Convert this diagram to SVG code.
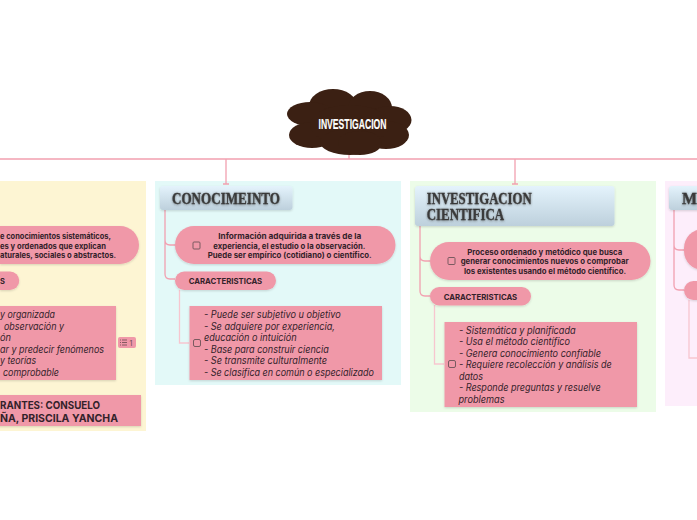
<svg xmlns="http://www.w3.org/2000/svg" width="697" height="520" viewBox="0 0 697 520">
<defs>
<linearGradient id="tg" x1="0" y1="0" x2="0" y2="1"><stop offset="0" stop-color="#e4f3fc"/><stop offset="1" stop-color="#bdd0dc"/></linearGradient>
<filter id="sh" x="-10%" y="-20%" width="120%" height="140%"><feDropShadow dx="0" dy="1" stdDeviation="1" flood-color="#000" flood-opacity="0.15"/></filter>
<filter id="ts" x="-5%" y="-20%" width="110%" height="150%"><feDropShadow dx="0" dy="0.5" stdDeviation="0.8" flood-color="#333" flood-opacity="0.6"/></filter>
</defs>
<style>
.pk{fill:#f098a8;filter:url(#sh)}
.ti{fill:url(#tg);filter:url(#sh)}
.tt{font:bold 16px "Liberation Serif",serif;fill:#3a3a3a;stroke:#3a3a3a;stroke-width:.3;filter:url(#ts)}
.d{font:bold 8px Inter,"Open Sans",sans-serif;fill:#33222a}
.c{font:bold 7.5px Inter,"Open Sans",sans-serif;fill:#33222a}
.i{font:italic 10px Inter,"Open Sans",sans-serif;fill:#33222a}
.b{font:bold 10.700px Inter,"Open Sans",sans-serif;fill:#33222a}
.cb{fill:none;stroke:#7a5a60;stroke-width:1}
.ln{fill:none;stroke:#f2a0b0;stroke-width:1.300}
.lt{fill:none;stroke:#f7c6cf;stroke-width:1.300}
</style>
<rect x="0" y="181" width="146" height="250" fill="#fdf5d3"/>
<rect x="155" y="181" width="246" height="204" fill="#e3f9f8"/>
<rect x="410" y="181" width="246" height="231" fill="#ecfce8"/>
<rect x="665" y="181" width="32" height="225" fill="#fdeefb"/>
<g id="connectors">
<path class="ln" d="M0 159H697M349 154V159M226 159V184M223 184H229M515 159V184M512 184H518"/>
<path class="ln" d="M165 210V274Q165 279 170 279H175M165 240Q165 245 170 245H175"/>
<path class="lt" d="M179.500 290V343H189"/>
<path class="ln" d="M420 226V291Q420 296 425 296H430M420 256Q420 261 425 261H430"/>
<path class="lt" d="M434.500 305V364H444"/>
<path class="ln" d="M674 210V285Q674 290 679 290H684M674 245Q674 250 679 250H684"/>
<path class="lt" d="M689 300V358H697"/>
</g>
<g id="root" fill="#3b2013">
<ellipse cx="333" cy="106" rx="24" ry="17"/><ellipse cx="370" cy="108" rx="22" ry="17"/>
<ellipse cx="310" cy="114" rx="23" ry="12"/><ellipse cx="390" cy="120" rx="21.500" ry="14"/>
<ellipse cx="312" cy="135" rx="23" ry="13"/><ellipse cx="386" cy="135" rx="23" ry="14"/>
<ellipse cx="350" cy="125" rx="40" ry="20"/><ellipse cx="350" cy="142" rx="30" ry="13"/><ellipse cx="360" cy="143" rx="22" ry="12"/>
<text x="318.500" y="129" font-family="Liberation Sans Narrow,Liberation Sans,sans-serif" font-weight="bold" font-size="15.500" fill="#fff" stroke="#fff" stroke-width=".2" textLength="68" lengthAdjust="spacingAndGlyphs">INVESTIGACION</text>
</g>
<g id="n-left">
<path class="pk" d="M0 226H120a19 19 0 0 1 0 38H0Z"/>
<text class="d" x="0" y="239" textLength="111" lengthAdjust="spacingAndGlyphs">e conocimientos sistemáticos,</text>
<text class="d" x="0" y="248.500" textLength="106" lengthAdjust="spacingAndGlyphs">es y ordenados que explican</text>
<text class="d" x="0" y="258" textLength="116" lengthAdjust="spacingAndGlyphs">aturales, sociales o abstractos.</text>
<path class="pk" d="M0 271.500H10a9.250 9.250 0 0 1 0 18.500H0Z"/>
<text class="c" x="0" y="284">S</text>
<rect class="pk" x="-5" y="306" width="121" height="74"/>
<text class="i" x="0" y="318" textLength="55" lengthAdjust="spacingAndGlyphs">y organizada</text>
<text class="i" x="4" y="329.500" textLength="60" lengthAdjust="spacingAndGlyphs">observación y</text>
<text class="i" x="0" y="341" textLength="11" lengthAdjust="spacingAndGlyphs">ón</text>
<text class="i" x="0" y="352.500" textLength="104" lengthAdjust="spacingAndGlyphs">ar y predecir fenómenos</text>
<text class="i" x="0" y="364" textLength="36" lengthAdjust="spacingAndGlyphs">y teorías</text>
<text class="i" x="3" y="375.500" textLength="56" lengthAdjust="spacingAndGlyphs">comprobable</text>
<rect x="118" y="337" width="18" height="11" rx="2" fill="#f098a8"/>
<path d="M120 340h1M122 340h5M120 342.500h1M122 342.500h5M120 345h1M122 345h5" stroke="#6a4a50" stroke-width="0.8" fill="none"/>
<text x="129.500" y="345.500" font-family="Inter,sans-serif" font-size="7" fill="#6a4a50">1</text>
<rect class="pk" x="-5" y="395" width="146" height="31"/>
<text class="b" x="0" y="408.500" textLength="100" lengthAdjust="spacingAndGlyphs">RANTES: CONSUELO</text>
<text class="b" x="0" y="421.500" textLength="118" lengthAdjust="spacingAndGlyphs">ÑA, PRISCILA YANCHA</text>
</g>
<g id="n-conocimiento">
<rect class="ti" x="160" y="186" width="132.500" height="24" rx="3"/>
<text class="tt" x="172" y="203.500" textLength="108" lengthAdjust="spacingAndGlyphs">CONOCIMEINTO</text>
<rect class="pk" x="175" y="226" width="220.500" height="38" rx="19"/>
<rect class="cb" x="193" y="242" width="7" height="7" rx="1"/>
<text class="d" x="218.300" y="239" textLength="143" lengthAdjust="spacingAndGlyphs">Información adquirida a través de la</text>
<text class="d" x="213.300" y="248.500" textLength="152" lengthAdjust="spacingAndGlyphs">experiencia, el estudio o la observación.</text>
<text class="d" x="207.700" y="258" textLength="164" lengthAdjust="spacingAndGlyphs">Puede ser empírico (cotidiano) o científico.</text>
<rect class="pk" x="175" y="271.500" width="101" height="18.500" rx="9.250"/>
<text class="c" x="188.700" y="284" textLength="73.500" lengthAdjust="spacingAndGlyphs">CARACTERISTICAS</text>
<rect class="pk" x="189.500" y="306" width="192.500" height="74"/>
<rect class="cb" x="193.500" y="339.500" width="7" height="7" rx="1.500"/>
<text class="i" x="204" y="318" textLength="136.700" lengthAdjust="spacingAndGlyphs">- Puede ser subjetivo u objetivo</text>
<text class="i" x="204" y="329.500" textLength="131" lengthAdjust="spacingAndGlyphs">- Se adquiere por experiencia,</text>
<text class="i" x="204" y="341" textLength="92.700" lengthAdjust="spacingAndGlyphs">educación o intuición</text>
<text class="i" x="204" y="352.500" textLength="124.700" lengthAdjust="spacingAndGlyphs">- Base para construir ciencia</text>
<text class="i" x="204" y="364" textLength="123" lengthAdjust="spacingAndGlyphs">- Se transmite culturalmente</text>
<text class="i" x="204" y="375.500" textLength="170" lengthAdjust="spacingAndGlyphs">- Se clasifica en común o especializado</text>
</g>
<g id="n-cientifica">
<rect class="ti" x="415" y="186" width="199.500" height="40" rx="3"/>
<text class="tt" x="426.700" y="203.500" textLength="105" lengthAdjust="spacingAndGlyphs">INVESTIGACION</text>
<text class="tt" x="426.700" y="219.500" textLength="77.500" lengthAdjust="spacingAndGlyphs">CIENTIFICA</text>
<rect class="pk" x="430" y="242" width="220.500" height="38" rx="19"/>
<rect class="cb" x="448" y="257.500" width="7" height="7" rx="1"/>
<text class="d" x="467.300" y="254.500" textLength="155" lengthAdjust="spacingAndGlyphs">Proceso ordenado y metódico que busca</text>
<text class="d" x="460.700" y="264" textLength="168" lengthAdjust="spacingAndGlyphs">generar conocimientos nuevos o comprobar</text>
<text class="d" x="464" y="273.500" textLength="162" lengthAdjust="spacingAndGlyphs">los existentes usando el método científico.</text>
<rect class="pk" x="430" y="287" width="101" height="18.500" rx="9.250"/>
<text class="c" x="443.700" y="299.500" textLength="73.500" lengthAdjust="spacingAndGlyphs">CARACTERISTICAS</text>
<rect class="pk" x="444.500" y="322" width="192.500" height="85"/>
<rect class="cb" x="448.500" y="360.500" width="7" height="7" rx="1.500"/>
<text class="i" x="459" y="333.500" textLength="116.700" lengthAdjust="spacingAndGlyphs">- Sistemática y planificada</text>
<text class="i" x="459" y="345" textLength="111" lengthAdjust="spacingAndGlyphs">- Usa el método científico</text>
<text class="i" x="459" y="356.500" textLength="142" lengthAdjust="spacingAndGlyphs">- Genera conocimiento confiable</text>
<text class="i" x="459" y="368" textLength="152.700" lengthAdjust="spacingAndGlyphs">- Requiere recolección y análisis de</text>
<text class="i" x="459" y="379.500" textLength="24" lengthAdjust="spacingAndGlyphs">datos</text>
<text class="i" x="459" y="391" textLength="141.700" lengthAdjust="spacingAndGlyphs">- Responde preguntas y resuelve</text>
<text class="i" x="458.500" y="402.500" textLength="46" lengthAdjust="spacingAndGlyphs">problemas</text>
</g>
<g id="n-right">
<rect class="ti" x="669" y="186" width="40" height="24" rx="3"/>
<text class="tt" x="682" y="203.500" textLength="15" lengthAdjust="spacingAndGlyphs">M</text>
<rect class="pk" x="684" y="229" width="40" height="41" rx="19"/>
<rect class="pk" x="684" y="281" width="40" height="19" rx="9.500"/>
</g>
</svg>
